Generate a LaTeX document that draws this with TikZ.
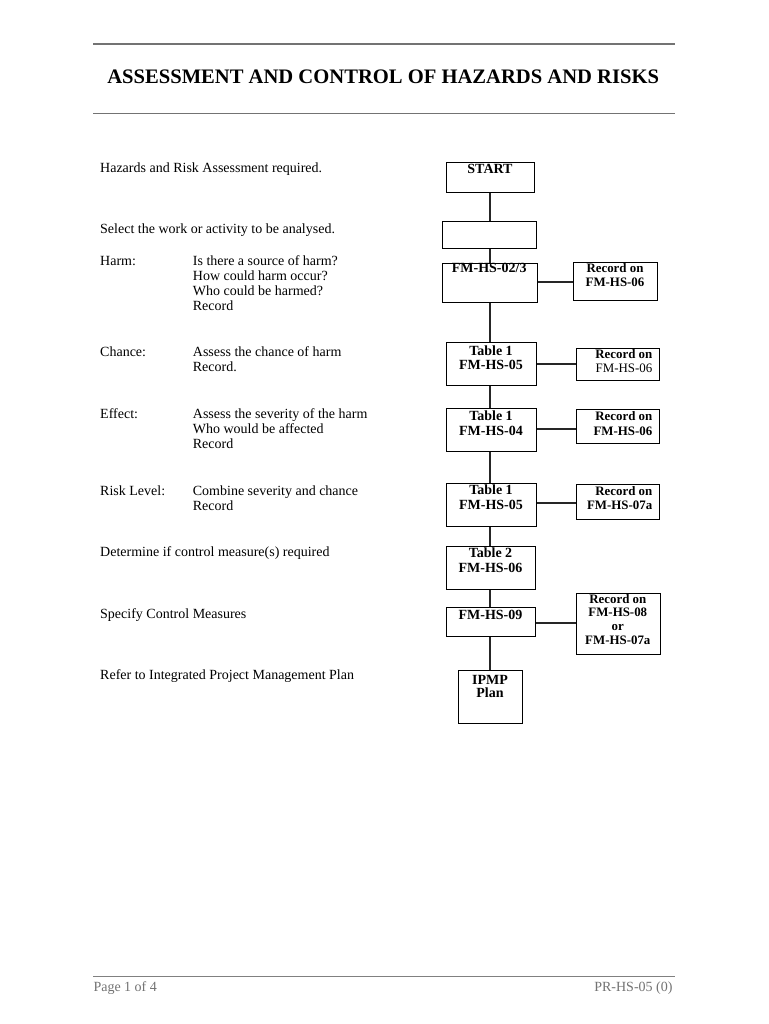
\documentclass[tikz,border=0pt]{standalone}
\usepackage{fontspec}
\setmainfont{Liberation Serif}
\begin{document}
\begin{tikzpicture}[x=1pt,y=-1pt,
  box/.style={draw=black, line width=0.9pt, inner sep=0pt, anchor=north west},
  conn/.style={draw=black!85, line width=1.3pt},
  rulel/.style={draw=black!55, line width=1.6pt},
  body/.style={font=\fontsize{14}{15.1}\selectfont, inner sep=0pt, anchor=base west, align=left},
  bt/.style={font=\fontsize{14}{14.3}\selectfont\bfseries, inner sep=0pt, anchor=base, align=center},
  rt/.style={font=\fontsize{12.9}{14}\selectfont\bfseries, inner sep=0pt, anchor=base, align=center},
  rtr/.style={font=\fontsize{12.9}{14.4}\selectfont\bfseries, inner sep=0pt, anchor=base east, align=right},
  foot/.style={font=\fontsize{14}{15}\selectfont, text=black!55, inner sep=0pt}]
\useasboundingbox (0,0) rectangle (768,1024);
\fill[white] (0,0) rectangle (768,1024);

% header
\draw[rulel] (93,44.3) -- (675,44.3);
\draw[rulel] (93,113.7) -- (675,113.7);
\node[font=\fontsize{20.6}{22}\selectfont\bfseries, inner sep=0pt, anchor=base] (title) at (383.2,84) {ASSESSMENT AND CONTROL OF HAZARDS AND RISKS};

% left descriptions (multi-line nodes anchored at the baseline of their last line)
\node[body] (l1) at (100,172.3) {Hazards and Risk Assessment required.};
\node[body] (l2) at (100,233.3) {Select the work or activity to be analysed.};
\node[body] (l3) at (100,265) {Harm:};
\node[body] (l3b) at (192.7,310.3) {Is there a source of harm?\\How could harm occur?\\Who could be harmed?\\Record};
\node[body] (l4) at (100,356.7) {Chance:};
\node[body] (l4b) at (192.7,371.7) {Assess the chance of harm\\Record.};
\node[body] (l5) at (100,418.3) {Effect:};
\node[body] (l5b) at (192.7,448.7) {Assess the severity of the harm\\Who would be affected\\Record};
\node[body] (l6) at (100,495.7) {Risk Level:};
\node[body] (l6b) at (192.7,510.7) {Combine severity and chance\\Record};
\node[body] (l7) at (100,556.7) {Determine if control measure(s) required};
\node[body] (l8) at (100,618.3) {Specify Control Measures};
\node[body] (l9) at (100,679) {Refer to Integrated Project Management Plan};

% flow boxes
\node[box, minimum width=88.6pt, minimum height=30pt] (start) at (445.7,162.3) {};
\node[box, minimum width=94.3pt, minimum height=26.7pt] (empty) at (441.7,221) {};
\node[box, minimum width=95pt, minimum height=39.6pt] (fm023) at (441.7,262.7) {};
\node[box, minimum width=90pt, minimum height=42.7pt] (t1) at (446,342.3) {};
\node[box, minimum width=90pt, minimum height=43.3pt] (t2) at (446,407.7) {};
\node[box, minimum width=90pt, minimum height=43.3pt] (t3) at (446,482.7) {};
\node[box, minimum width=89pt, minimum height=43.6pt] (t4) at (446,545.7) {};
\node[box, minimum width=89pt, minimum height=28.7pt] (fm09) at (446,607.3) {};
\node[box, minimum width=63.4pt, minimum height=52.7pt] (ipmp) at (458.3,670) {};

% record boxes
\node[box, minimum width=84pt, minimum height=38.3pt] (rec1) at (572.7,262) {};
\node[box, minimum width=83.6pt, minimum height=32.3pt] (rec2) at (575.7,347.7) {};
\node[box, minimum width=83.3pt, minimum height=33.4pt] (rec3) at (576,409.3) {};
\node[box, minimum width=83.3pt, minimum height=35pt] (rec4) at (576,484.3) {};
\node[box, minimum width=84.3pt, minimum height=61pt] (rec5) at (575.7,593.3) {};

% box texts
\node[bt] (start-t) at (490,174) {START};
\node[bt] (fm023-t) at (489.2,272) {FM-HS-02/3};
\node[bt] (t1-t) at (491,369.3) {Table 1\\FM-HS-05};
\node[bt] (t2-t) at (491,435) {Table 1\\FM-HS-04};
\node[bt] (t3-t) at (491,509) {Table 1\\FM-HS-05};
\node[bt, font=\fontsize{14}{15}\selectfont\bfseries] (t4-t) at (490.5,572.3) {Table 2\\FM-HS-06};
\node[bt] (fm09-t) at (490.5,619.3) {FM-HS-09};
\node[bt, font=\fontsize{14}{13.4}\selectfont\bfseries] (ipmp-t) at (490,697.7) {IPMP\\Plan};

\node[rt] (rec1-t) at (615,286.7) {Record on\\FM-HS-06};
\node[rtr] (rec2-t) at (652.5,372.7) {Record on\\\mdseries FM-HS-06};
\node[rtr] (rec3-t) at (652.5,435) {Record on\\FM-HS-06};
\node[rtr, font=\fontsize{12.9}{13.6}\selectfont\bfseries] (rec4-t) at (652.5,509.3) {Record on\\FM-HS-07a};
\node[rt, font=\fontsize{12.9}{13.7}\selectfont\bfseries] (rec5-t) at (617.8,644.3) {Record on\\FM-HS-08\\or\\FM-HS-07a};

% vertical connectors
\coordinate (axis) at (490,0);
\draw[conn] (axis |- start.south) -- (axis |- empty.north);
\draw[conn] (axis |- empty.south) -- (axis |- fm023.north);
\draw[conn] (axis |- fm023.south) -- (axis |- t1.north);
\draw[conn] (axis |- t1.south) -- (axis |- t2.north);
\draw[conn] (axis |- t2.south) -- (axis |- t3.north);
\draw[conn] (axis |- t3.south) -- (axis |- t4.north);
\draw[conn] (axis |- t4.south) -- (axis |- fm09.north);
\draw[conn] (axis |- fm09.south) -- (axis |- ipmp.north);

% horizontal connectors
\draw[conn] (fm023.east |- 0,282) -- (rec1.west |- 0,282);
\draw[conn] (t1.east |- 0,364) -- (rec2.west |- 0,364);
\draw[conn] (t2.east |- 0,429) -- (rec3.west |- 0,429);
\draw[conn] (t3.east |- 0,503) -- (rec4.west |- 0,503);
\draw[conn] (fm09.east |- 0,623) -- (rec5.west |- 0,623);

% footer
\draw[draw=black!50, line width=1.1pt] (93,976.7) -- (675,976.7);
\node[foot, anchor=base west] (page) at (93.3,991) {Page 1 of 4};
\node[foot, anchor=base east] (docid) at (672.7,991) {PR-HS-05 (0)};
\end{tikzpicture}
\end{document}
